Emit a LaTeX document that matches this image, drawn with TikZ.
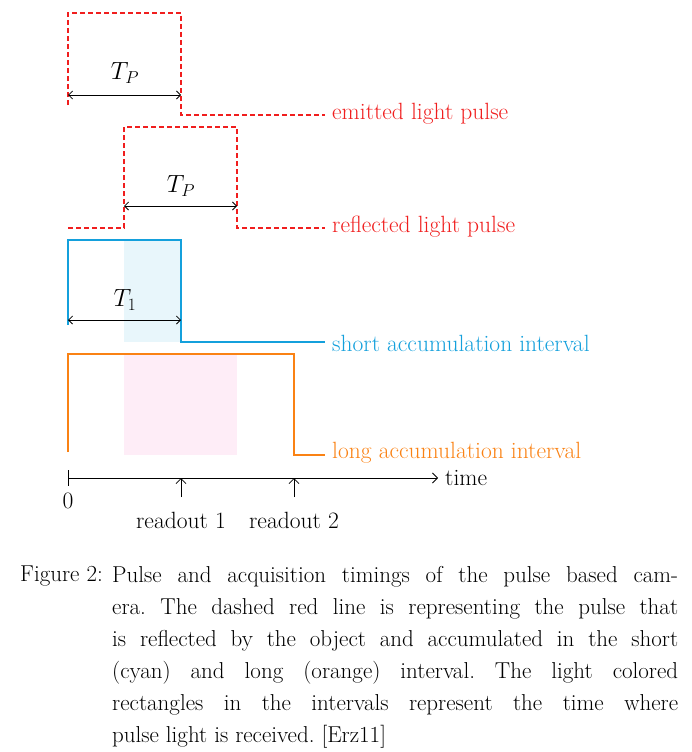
\documentclass[tikz,border=0pt]{standalone}
\usepackage{fontspec}
\usetikzlibrary{arrows.meta}
\definecolor{pred}{RGB}{240,30,30}
\definecolor{pcyan}{RGB}{20,160,220}
\definecolor{porange}{RGB}{250,130,20}
\frenchspacing
\begin{document}
\begin{tikzpicture}[x=1pt,y=-1pt,
  lab/.style={anchor=west,font=\fontsize{23.5}{26}\selectfont,inner sep=0pt},
  dim/.style={{Straight Barb[length=4pt]}-{Straight Barb[length=4pt]},thick},
  sig/.style={line width=1.3pt},
  tl/.style={font=\fontsize{23.5}{26}\selectfont,inner sep=0pt}]
\useasboundingbox (0,0) rectangle (692,752);
% shaded rects
\fill[pcyan!10] (124,240) rectangle (181,342);
\fill[magenta!7] (124,354) rectangle (237,455);
% emitted
\draw[sig,pred,dash pattern=on 5pt off 3pt] (68,105) -- (68,13) -- (181,13) -- (181,115) -- (325,115);
\node[lab,text=pred] (em) at (332,114) {emitted light pulse};
\coordinate (a1) at (68,95); \coordinate (a2) at (181,95);
\draw[dim] (a1) -- (a2);
\node[tl] at (125,73) {$T_P$};
% reflected
\draw[sig,pred,dash pattern=on 5pt off 3pt] (68,228) -- (124,228) -- (124,127) -- (237,127) -- (237,228) -- (325,228);
\node[lab,text=pred] (re) at (332,227) {reflected light pulse};
\coordinate (b1) at (124,206); \coordinate (b2) at (237,206);
\draw[dim] (b1) -- (b2);
\node[tl] at (181,186) {$T_P$};
% cyan
\draw[sig,pcyan] (68,325) -- (68,240) -- (181,240) -- (181,342) -- (325,342);
\node[lab,text=pcyan] (sh) at (332,343) {short accumulation interval};
\coordinate (c1) at (68,320); \coordinate (c2) at (181,320);
\draw[dim] (c1) -- (c2);
\node[tl] at (125,300) {$T_1$};
% orange
\draw[sig,porange] (68,452) -- (68,354) -- (294,354) -- (294,455) -- (325,455);
\node[lab,text=porange] (lo) at (332,453) {long accumulation interval};
% time axis
\coordinate (t0) at (68,478); \coordinate (t1) at (438,478);
\draw[thick,-{Straight Barb[length=5pt]}] (t0) -- (t1);
\draw[thick] (68,470) -- (68,486);
\node[lab] (time) at (445,478) {time};
\node[font=\fontsize{23.5}{26}\selectfont] (zero) at (68,501) {0};
\coordinate (r1) at (181,478); \coordinate (r2) at (294,478);
\draw[thick,-{Straight Barb[length=5pt]}] (181,497) -- (r1);
\draw[thick,-{Straight Barb[length=5pt]}] (294,497) -- (r2);
\node[font=\fontsize{23.5}{26}\selectfont] (ro1) at (181,520) {readout 1};
\node[font=\fontsize{23.5}{26}\selectfont] (ro2) at (294,520) {readout 2};
% caption
\node[anchor=north west,inner sep=0pt,font=\fontsize{23}{32}\selectfont] (fig) at (20,566) {Figure 2:};
\node[anchor=north west,inner sep=0pt,text width=566pt,align=justify,font=\fontsize{23}{32}\selectfont] (cap) at (112,566) {Pulse and acquisition timings of the pulse based cam-\linebreak era. The dashed red line is representing the pulse that\linebreak is reflected by the object and accumulated in the short\linebreak (cyan) and long (orange) interval. The light colored\linebreak rectangles in the intervals represent the time where\linebreak pulse light is received. [Erz11]};
\end{tikzpicture}
\end{document}
